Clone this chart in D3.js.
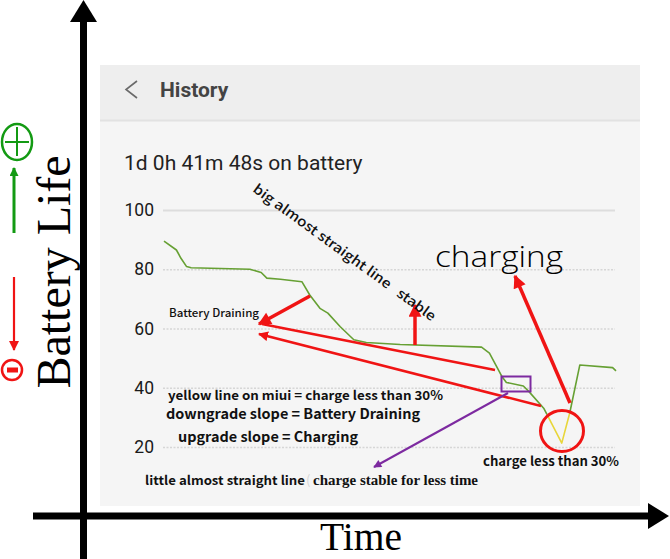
<!DOCTYPE html>
<html><head><meta charset="utf-8">
<script src="https://cdn.jsdelivr.net/npm/d3@7"></script>
<style>body{margin:0;background:#fff;overflow:hidden} text{white-space:pre}</style>
</head><body>
<svg id="c" width="670" height="559"></svg>
<script>
// ---- data ----
const timeHours   = [0, 1.1, 1.5, 2.0, 2.4, 7.6, 8.6, 9.1, 10.3, 12.2, 12.9, 13.8, 14.5, 15.6, 16.8, 17.9, 20.9, 28.1, 28.8, 29.9, 30.3, 31.8, 32.3, 33.6, 33.9, 35.2, 35.9, 36.8, 39.7, 40];
const batteryLevel = [89.5, 86.5, 83.7, 80.9, 80.5, 80.0, 78.9, 77.0, 76.6, 75.8, 71.3, 66.8, 65.2, 60.6, 56.2, 55.3, 54.6, 53.7, 51.7, 43.8, 41.8, 40.6, 38.7, 33.1, 30.9, 21.3, 31.4, 47.7, 46.8, 45.7];
const yTicks = [20, 40, 60, 80, 100];
const lowChargeThreshold = 31.5;
const headerTitle = "History";
const summaryText = "1d 0h 41m 48s on battery";

const svg = d3.select("#c");
const SANS = "'Noto Sans CJK JP', 'Noto Sans', sans-serif";
const RED = "#f01414", GREEN = "#139a13", PURPLE = "#7d2aa0";

// markers
const defs = svg.append("defs");
function marker(id, color, w, h) {
  defs.append("marker").attr("id", id).attr("viewBox", "0 0 10 10")
    .attr("refX", 9).attr("refY", 5).attr("markerWidth", w).attr("markerHeight", h)
    .attr("markerUnits", "userSpaceOnUse").attr("orient", "auto")
    .append("path").attr("d", "M0,0 L10,5 L0,10 z").attr("fill", color);
}
marker("ar", RED, 14, 13);
marker("arS", RED, 10, 10);
marker("ag", GREEN, 10, 9);
marker("ap", PURPLE, 9, 8);

// ---- phone panel ----
svg.append("rect").attr("x", 100).attr("y", 65).attr("width", 540).attr("height", 441).attr("fill", "#f5f5f5");
svg.append("rect").attr("x", 100).attr("y", 65).attr("width", 540).attr("height", 55).attr("fill", "#eeeeee");
svg.append("line").attr("x1", 100).attr("x2", 640).attr("y1", 120.5).attr("y2", 120.5).attr("stroke", "#e2e2e2").attr("stroke-width", 2);
svg.append("path").attr("d", "M137,81 L126,89.5 L137,98").attr("fill", "none").attr("stroke", "#6a6a6a").attr("stroke-width", 1.6);
svg.append("text").attr("x", 160).attr("y", 97).text(headerTitle)
  .attr("font-family", "Roboto").attr("font-weight", "bold").attr("font-size", 21).attr("fill", "#444");
svg.append("text").attr("x", 124).attr("y", 170).text(summaryText)
  .attr("font-family", "Roboto").attr("font-size", 21).attr("fill", "#222");

// ---- scales & axis ----
const x = d3.scaleLinear().domain([0, 40]).range([164, 616]);
const y = d3.scaleLinear().domain([20, 100]).range([447, 210]);
const gAxis = svg.append("g").attr("transform", "translate(163,0)")
  .call(d3.axisLeft(y).tickValues(yTicks).tickSize(-(615 - 163)).tickPadding(9));
gAxis.select(".domain").remove();
gAxis.selectAll(".tick line")
  .attr("stroke", d => d === 100 ? "#dddddd" : "#d6d6d6")
  .attr("stroke-width", d => d === 100 ? 2 : 1.5)
  .attr("stroke-dasharray", d => d === 100 ? null : "2,1.5");
gAxis.selectAll(".tick text").attr("font-family", "Roboto").attr("font-size", 17.5).attr("fill", "#1a1a1a");

// ---- battery line (green, yellow where below threshold) ----
const pts = timeHours.map((t, i) => ({ t, v: batteryLevel[i] }));
const runs = [];
for (let i = 0; i < pts.length - 1; i++) {
  const low = pts[i].v < lowChargeThreshold && pts[i + 1].v < lowChargeThreshold;
  const last = runs[runs.length - 1];
  if (last && last.low === low) last.pts.push(pts[i + 1]);
  else runs.push({ low, pts: [pts[i], pts[i + 1]] });
}
const line = d3.line().x(d => x(d.t)).y(d => y(d.v));
svg.append("g").selectAll("path").data(runs).join("path")
  .attr("d", d => line(d.pts)).attr("fill", "none")
  .attr("stroke", d => d.low ? "#e8d63a" : "#66a033")
  .attr("stroke-width", 1.6).attr("stroke-linejoin", "round");

// ---- big axes arrows ----
svg.append("line").attr("x1", 83.5).attr("x2", 83.5).attr("y1", 559).attr("y2", 18).attr("stroke", "#000").attr("stroke-width", 7);
svg.append("path").attr("d", "M83.5,0 L97,22 L70,22 z").attr("fill", "#000");
svg.append("line").attr("x1", 33).attr("x2", 650).attr("y1", 516).attr("y2", 516).attr("stroke", "#000").attr("stroke-width", 7);
svg.append("path").attr("d", "M669,516 L648,503 L648,529 z").attr("fill", "#000");

svg.append("text").attr("transform", "translate(70,272) rotate(-90)").attr("text-anchor", "middle")
  .attr("font-family", "'Liberation Serif', serif").attr("font-size", 48).attr("fill", "#000").text("Battery Life");
svg.append("text").attr("x", 320).attr("y", 550).attr("textLength", 82).attr("lengthAdjust", "spacingAndGlyphs")
  .attr("font-family", "'Liberation Serif', serif").attr("font-size", 39).attr("fill", "#000").text("Time");

// plus / minus icons
svg.append("ellipse").attr("cx", 17).attr("cy", 142).attr("rx", 15).attr("ry", 18).attr("fill", "none").attr("stroke", GREEN).attr("stroke-width", 2.5);
svg.append("path").attr("d", "M5,142 H29 M17,127 V156").attr("stroke", GREEN).attr("stroke-width", 2);
svg.append("line").attr("x1", 14).attr("x2", 14).attr("y1", 233).attr("y2", 168).attr("stroke", GREEN).attr("stroke-width", 3).attr("marker-end", "url(#ag)");
svg.append("line").attr("x1", 14).attr("x2", 14).attr("y1", 277).attr("y2", 350).attr("stroke", RED).attr("stroke-width", 2.2).attr("marker-end", "url(#arS)");
svg.append("ellipse").attr("cx", 12).attr("cy", 370).attr("rx", 10).attr("ry", 10).attr("fill", "none").attr("stroke", RED).attr("stroke-width", 2.5);
svg.append("rect").attr("x", 7).attr("y", 367.5).attr("width", 11).attr("height", 5).attr("fill", RED);

// ---- annotations ----
function arrow(x1, y1, x2, y2, color, w, m) {
  const l = svg.append("line").attr("x1", x1).attr("y1", y1).attr("x2", x2).attr("y2", y2)
    .attr("stroke", color).attr("stroke-width", w);
  if (m) l.attr("marker-end", `url(#${m})`);
}
arrow(310, 296, 259, 324, RED, 3.5, "ar");
arrow(495, 370, 262, 324, RED, 2.5, null);
arrow(541, 406, 259, 334, RED, 2.5, "arS");
arrow(415, 345, 415, 305, RED, 3.5, "ar");
arrow(570, 403, 515, 276, RED, 3.5, "ar");
svg.append("ellipse").attr("cx", 562).attr("cy", 431).attr("rx", 21.5).attr("ry", 20.5).attr("fill", "none").attr("stroke", RED).attr("stroke-width", 3);
svg.append("rect").attr("x", 501.5).attr("y", 376.5).attr("width", 29).attr("height", 15).attr("fill", "none").attr("stroke", PURPLE).attr("stroke-width", 2);
arrow(508, 393, 374, 467, PURPLE, 2, "ap");

function label(txt, x0, y0, size, len, opts = {}) {
  const t = svg.append("text").attr("x", x0).attr("y", y0).text(txt)
    .attr("font-family", opts.family || SANS).attr("font-size", size)
    .attr("font-weight", opts.weight || 600).attr("fill", opts.fill || "#111");
  if (len) t.attr("textLength", len).attr("lengthAdjust", "spacingAndGlyphs");
  if (opts.rotate !== undefined) t.attr("transform", `rotate(${opts.rotate},${x0},${y0})`);
  return t;
}
label("big almost straight line   stable", 252, 191, 13.5, 222, { rotate: 36, weight: 500 });
label("Battery Draining", 169, 317, 11, 90, { weight: 500 });
label("charging", 435, 267, 29, 128, { weight: 300, fill: "#000", family: "'Open Sans', 'Noto Sans', sans-serif" });
label("yellow line on miui = charge less than 30%", 168, 400, 12.5, 275);
label("downgrade slope = Battery Draining", 166, 419, 14, 254);
label("upgrade slope = Charging", 178, 442, 14, 180);
label("little almost straight line", 145, 485, 12.5, 160);
label("(", 306, 485, 13, null, { fill: "#d6d6d6", weight: 400 });
label("charge stable for less time", 313, 485, 14.5, 165, { family: "'Liberation Serif', serif", weight: "bold" });
label("charge less than 30%", 483, 466, 13, 136);
</script>
</body></html>
